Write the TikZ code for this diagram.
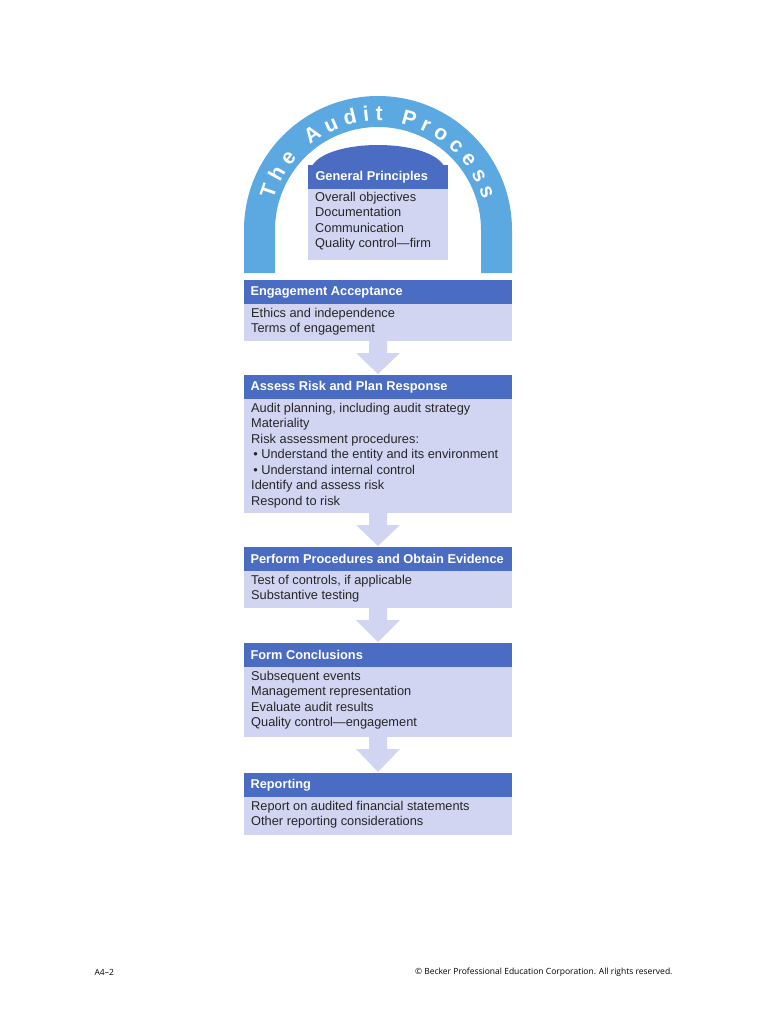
\documentclass[tikz,border=0pt]{standalone}
\usepackage{fontspec}
\setmainfont{Liberation Sans}
\newfontfamily\footfont{Open Sans}
\usetikzlibrary{decorations.text}
\definecolor{hdr}{HTML}{4A6CC2}
\definecolor{bodyc}{HTML}{D2D5F2}
\definecolor{archc}{HTML}{5CA9E2}
\tikzset{x=1pt,y=1pt,
 hdrbox/.style={fill=hdr},
 bodybox/.style={fill=bodyc},
 htext/.style={anchor=west,text=white,font=\fontsize{12.8}{15}\selectfont\bfseries},
 btext/.style={anchor=north west,text=black!85,font=\fontsize{12.8}{15.5}\selectfont,align=left,inner sep=0pt},
 flow/.style={fill=bodyc}}
\begin{document}
\begin{tikzpicture}
\useasboundingbox (0,0) rectangle (768,-1024);
% arch
\fill[archc] (244,-273) -- (244,-230) arc[start angle=180,end angle=0,radius=134] -- (512,-273) -- (481,-273) -- (481,-230) arc[start angle=0,end angle=180,radius=103] -- (275,-273) -- cycle;
\path[decorate,decoration={text along path,text align=fit to path,
  text={|\fontsize{21}{21}\selectfont\bfseries\color{white}|The Audit Process}}]
  (378,-230) ++(164:109) arc[start angle=164,end angle=16,radius=109];
% general principles
\fill[hdr] (312,-166) .. controls (328,-138) and (428,-138) .. (444,-166) -- cycle;
\fill[hdr] (308,-165) rectangle (448,-189);
\fill[bodyc] (308,-189) rectangle (448,-260);
\node[htext] (gp) at (312,-177) {General Principles};
\node[btext] (gpb) at (315,-192) {Overall objectives\\Documentation\\Communication\\Quality control—firm};
% boxes
\newcommand\stagebox[5]{%
 \fill[hdr] (244,-#2) rectangle (512,-#3);
 \fill[bodyc] (244,-#3) rectangle (512,-#4);
 \node[htext] at (247,-#2/2-#3/2) {#1};
 \node[btext] at (251,-#3-4) {#5};}
\stagebox{Engagement Acceptance}{280}{304}{341}{Ethics and independence\\Terms of engagement}
\stagebox{Assess Risk and Plan Response}{375}{399}{513}{Audit planning, including audit strategy\\Materiality\\Risk assessment procedures:\\ \,• Understand the entity and its environment\\ \,• Understand internal control\\Identify and assess risk\\Respond to risk}
\stagebox{Perform Procedures and Obtain Evidence}{547}{571}{608}{Test of controls, if applicable\\Substantive testing}
\stagebox{Form Conclusions}{643}{667}{737}{Subsequent events\\Management representation\\Evaluate audit results\\Quality control—engagement}
\stagebox{Reporting}{773}{797}{835}{Report on audited financial statements\\Other reporting considerations}
% arrows
\newcommand\flowarrow[2]{%
 \fill[bodyc] (369,-#1) -- (387,-#1) -- (387,-#1-12) -- (400,-#1-12) -- (378,-#2) -- (356,-#1-12) -- (369,-#1-12) -- cycle;}
\flowarrow{341}{374}
\flowarrow{513}{546}
\flowarrow{608}{642}
\flowarrow{737}{772}
% footer
\node[anchor=west,font=\footfont\fontsize{8.5}{10}\selectfont] (pg) at (91,-972) {A4–2};
\node[anchor=east,font=\footfont\fontsize{8.5}{10}\selectfont] (cp) at (676,-972) {© Becker Professional Education Corporation. All rights reserved.};
\end{tikzpicture}
\end{document}
